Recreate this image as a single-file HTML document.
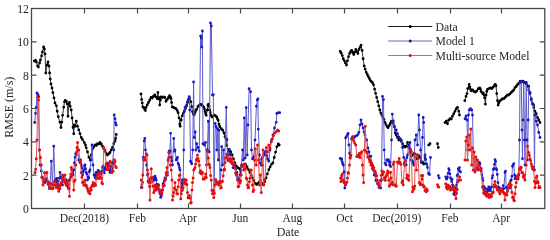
<!DOCTYPE html>
<html><head><meta charset="utf-8"><style>html,body{margin:0;padding:0;background:#fff;width:550px;height:240px;overflow:hidden}svg{display:block}</style></head>
<body>
<svg width="550" height="240" viewBox="0 0 550 240">
<rect width="550" height="240" fill="#fff"/>
<polyline points="34.4,61 35.6,60.4 36.4,62 37.6,66 38.4,67 39.6,63 40.4,60 41.6,56 42.4,52 43.6,47 44.4,49 45,54 45.8,73 47,65 48,62 49,66 49.6,73 50.2,79 51,84 52,88 52.9,92.7 54,97.9 55,103 56.4,105.8 57.2,111.25 58.25,116.7 59.9,122.1 61,127.5 61.8,122.1 62.6,115.3 63.7,107.2 64.5,101.8 65.3,100.4 66.25,101.25 67.2,103.75 68,116.25 68.8,104 69.5,102.5 70.2,106.25 71.25,110 72.1,118 73,127.5 73.75,133.75 74.25,125 75,126.25 76.25,121.25 77.5,126.25 78.75,130 80,133.75 81.25,137.5 82.6,139.7 84.3,142.4 85.5,145 86.2,147.8 87.5,151.9 88.9,157.3 90.2,160 91.2,155 92.5,148.75 93.75,147 95,145 96.25,145.5 97.5,143.75 98.75,144 100,142.5 101.25,144 102.5,146.25 103.75,148.75 105,151.25 106.25,153.75 107.5,155 108.75,153.75 110,152.5 111.25,150 112.5,147.5 113.75,143.75 115,141.25 115.6,138.5 116.25,134.4" fill="none" stroke="#000" stroke-width="0.8" stroke-linejoin="round"/>
<polyline points="141,94 141.6,99.4 142.25,103.1 142.9,106.9 143.5,107.5 144.75,109.4 145.4,110.6 146,107.5 147.25,105 148.5,102.5 149.75,100 151,97.5 152.25,98.1 153.5,96.25 154.75,95 156,96.9 157.25,98.75 157.9,92.5 158.5,97.5 159.1,98.75 159.75,105 160.4,100 161,96.9 162.25,97.5 163.5,96.9 164.75,97.5 166,101.25 167.25,99.4 168.5,97.5 169.5,95.6 170.4,96.9 171,98.75 171.6,102.5 172.25,106.9 173.5,107.5 174.75,108.1 176,108.75 177.25,110.6 178.1,112.7 179.1,117.9 179.75,124.2 180.2,126.25 181.2,120 182.25,115.8 183.3,113.3 184.3,111 185.4,108.5 186.7,105.8 187.6,102.5 188.5,100 189.5,98.5 190.8,101.7 191.7,106.7 192.5,111.7 193.3,114.2 194.2,115 195,112.5 195.8,110.5 196.7,109.2 198,106.5 199.2,105.3 200.3,104.2 201.5,104.75 202.7,105.9 203.8,107.1 204.4,108.8 205,111.2 205.6,113.5 206.2,115.25 207.3,110 207.9,105.3 208.5,104.2 209.1,106.5 209.7,110 210.25,112.3 210.8,115.25 212,117 213.2,115.8 214.3,115.25 215.5,115.8 216.75,117 217.5,119 218.25,120.5 219,124.25 219.75,126.5 221.25,128.75 222.75,130.25 224,133 225,136.7 226,138.75 226.8,145.3 228.1,149.4 229.5,151 230.8,152 232.2,154.8 233.5,158.9 234.9,163 236.3,166 237.6,167.5 239,168.4 240.3,169.7 241.7,167 243,165.6 244.4,164.3 245.7,165 247.1,167 248.5,169.7 249.8,172.4 251.2,175.1 252.5,177.8 253.9,180.5 255.2,183.3 256.6,184.6 257.9,183.3 259.3,181.9 260.6,180.5 262,183.3 263.4,184.6 264.7,181.9 266.1,177.8 267.4,173.8 268.8,169.7 270.1,167 271.5,164.3 272.8,163 274.2,157.5 275.6,152.1 276.9,146.7 278.3,144 279.2,145" fill="none" stroke="#000" stroke-width="0.8" stroke-linejoin="round"/>
<polyline points="340.2,51.5 341.2,53 342.3,55.6 343.3,58.75 344.4,60.8 345.4,62.9 346.5,65 347.5,60.8 348.5,56.7 349.6,53.5 350.6,51.5 351.7,50.4 352.7,52.5 353.75,54.6 354.8,52 355.8,49.4 356.9,51.5 357.9,53.5 359,49.4 360,47.3 361,45.2 362.1,50.4 363.1,58.75 364.2,66 365.2,69.2 366.25,72.3 367.3,74.5 368.3,76.5 369.4,78.5 370.4,80.6 371.5,81.7 372.5,82.7 373.5,84.8 374.6,89.2 375.6,93.3 376.7,97.5 377.7,101.7 378.75,105.8 379.8,110 380.8,113.1 381.9,115.2 382.9,117.3 384,119.4 385,122.5 386,124.6 387.1,126.7 388.1,127.7 389.2,125.6 390.2,123.5 391.25,121.5 392.3,122.5 393.3,123.5 394.4,126.7 395.4,133 396.25,135 397.5,137.5 398.75,140 400,139 401.25,141.25 402.5,143.75 403.75,146.25 405,147 406.25,146.25 407.5,142.5 408.75,147.5 410,152.5 411.25,156.25 412.5,155 413.75,153.75 415,157.5 416.25,158.75 417.5,155 418.75,156 420,157.5 421.25,161.25 422.5,162.5 423.75,164 425,155" fill="none" stroke="#000" stroke-width="0.8" stroke-linejoin="round"/>
<polyline points="428.75,145 430,143.75" fill="none" stroke="#000" stroke-width="0.8" stroke-linejoin="round"/>
<polyline points="437.5,143.75 438.3,147.5" fill="none" stroke="#000" stroke-width="0.8" stroke-linejoin="round"/>
<polyline points="445,122.5 446.25,121.25 447.5,123.75 448.75,120 450,118.75 451.25,119 452.5,116.25 453.75,113.75 455,111.25 456.25,108.75 457.5,107.5 458.75,111.25 459.5,115" fill="none" stroke="#000" stroke-width="0.8" stroke-linejoin="round"/>
<polyline points="464.8,100.7 466,96.4 467,93.6 467.7,88.6 469.1,84.4 469.8,87 470.5,89.3 471.2,90.8 472.6,90 474,91.5 475.5,92.2 476.9,90.8 478.3,88.6 479.7,87.9 480.4,89 481.1,91.5 482.6,93.6 483.3,93 484,95 484.7,97.9 485.4,104.2 486.1,95 486.8,91.5 487.5,89.3 489,88.6 490.4,87.9 491.8,88.6 493.2,87.2 494.6,85.1 495.3,84.4 496,85.8 496.75,93.6 497.5,100.7 498.2,105 498.9,102.8 500.3,100.7 501.7,99.3 502.5,98.75 503.75,98.75 505,97.5 506.25,96.25 507.5,95 508.75,95 510,93.75 511.25,92.5 512.5,91.25 513.75,90 515,87.5 516.25,86.5 517.5,84.5 518.75,83.5 520,81.5 521.25,81.5 522.5,81.25 523.75,82 525,82.5 526.25,84 527.5,86 528.75,90 530,93.75 531.25,98.75 532.5,103.75 533.75,107.5 535,111.25 536.25,113.75 537.5,117.5 538.75,120 540,122.5" fill="none" stroke="#000" stroke-width="0.8" stroke-linejoin="round"/>
<path d="M34.4 61h0M35.6 60.4h0M36.4 62h0M37.6 66h0M38.4 67h0M39.6 63h0M40.4 60h0M41.6 56h0M42.4 52h0M43.6 47h0M44.4 49h0M45 54h0M45.8 73h0M47 65h0M48 62h0M49 66h0M49.6 73h0M50.2 79h0M51 84h0M52 88h0M52.9 92.7h0M54 97.9h0M55 103h0M56.4 105.8h0M57.2 111.25h0M58.25 116.7h0M59.9 122.1h0M61 127.5h0M61.8 122.1h0M62.6 115.3h0M63.7 107.2h0M64.5 101.8h0M65.3 100.4h0M66.25 101.25h0M67.2 103.75h0M68 116.25h0M68.8 104h0M69.5 102.5h0M70.2 106.25h0M71.25 110h0M72.1 118h0M73 127.5h0M73.75 133.75h0M74.25 125h0M75 126.25h0M76.25 121.25h0M77.5 126.25h0M78.75 130h0M80 133.75h0M81.25 137.5h0M82.6 139.7h0M84.3 142.4h0M85.5 145h0M86.2 147.8h0M87.5 151.9h0M88.9 157.3h0M90.2 160h0M91.2 155h0M92.5 148.75h0M93.75 147h0M95 145h0M96.25 145.5h0M97.5 143.75h0M98.75 144h0M100 142.5h0M101.25 144h0M102.5 146.25h0M103.75 148.75h0M105 151.25h0M106.25 153.75h0M107.5 155h0M108.75 153.75h0M110 152.5h0M111.25 150h0M112.5 147.5h0M113.75 143.75h0M115 141.25h0M115.6 138.5h0M116.25 134.4h0M141 94h0M141.6 99.4h0M142.25 103.1h0M142.9 106.9h0M143.5 107.5h0M144.75 109.4h0M145.4 110.6h0M146 107.5h0M147.25 105h0M148.5 102.5h0M149.75 100h0M151 97.5h0M152.25 98.1h0M153.5 96.25h0M154.75 95h0M156 96.9h0M157.25 98.75h0M157.9 92.5h0M158.5 97.5h0M159.1 98.75h0M159.75 105h0M160.4 100h0M161 96.9h0M162.25 97.5h0M163.5 96.9h0M164.75 97.5h0M166 101.25h0M167.25 99.4h0M168.5 97.5h0M169.5 95.6h0M170.4 96.9h0M171 98.75h0M171.6 102.5h0M172.25 106.9h0M173.5 107.5h0M174.75 108.1h0M176 108.75h0M177.25 110.6h0M178.1 112.7h0M179.1 117.9h0M179.75 124.2h0M180.2 126.25h0M181.2 120h0M182.25 115.8h0M183.3 113.3h0M184.3 111h0M185.4 108.5h0M186.7 105.8h0M187.6 102.5h0M188.5 100h0M189.5 98.5h0M190.8 101.7h0M191.7 106.7h0M192.5 111.7h0M193.3 114.2h0M194.2 115h0M195 112.5h0M195.8 110.5h0M196.7 109.2h0M198 106.5h0M199.2 105.3h0M200.3 104.2h0M201.5 104.75h0M202.7 105.9h0M203.8 107.1h0M204.4 108.8h0M205 111.2h0M205.6 113.5h0M206.2 115.25h0M207.3 110h0M207.9 105.3h0M208.5 104.2h0M209.1 106.5h0M209.7 110h0M210.25 112.3h0M210.8 115.25h0M212 117h0M213.2 115.8h0M214.3 115.25h0M215.5 115.8h0M216.75 117h0M217.5 119h0M218.25 120.5h0M219 124.25h0M219.75 126.5h0M221.25 128.75h0M222.75 130.25h0M224 133h0M225 136.7h0M226 138.75h0M226.8 145.3h0M228.1 149.4h0M229.5 151h0M230.8 152h0M232.2 154.8h0M233.5 158.9h0M234.9 163h0M236.3 166h0M237.6 167.5h0M239 168.4h0M240.3 169.7h0M241.7 167h0M243 165.6h0M244.4 164.3h0M245.7 165h0M247.1 167h0M248.5 169.7h0M249.8 172.4h0M251.2 175.1h0M252.5 177.8h0M253.9 180.5h0M255.2 183.3h0M256.6 184.6h0M257.9 183.3h0M259.3 181.9h0M260.6 180.5h0M262 183.3h0M263.4 184.6h0M264.7 181.9h0M266.1 177.8h0M267.4 173.8h0M268.8 169.7h0M270.1 167h0M271.5 164.3h0M272.8 163h0M274.2 157.5h0M275.6 152.1h0M276.9 146.7h0M278.3 144h0M279.2 145h0M340.2 51.5h0M341.2 53h0M342.3 55.6h0M343.3 58.75h0M344.4 60.8h0M345.4 62.9h0M346.5 65h0M347.5 60.8h0M348.5 56.7h0M349.6 53.5h0M350.6 51.5h0M351.7 50.4h0M352.7 52.5h0M353.75 54.6h0M354.8 52h0M355.8 49.4h0M356.9 51.5h0M357.9 53.5h0M359 49.4h0M360 47.3h0M361 45.2h0M362.1 50.4h0M363.1 58.75h0M364.2 66h0M365.2 69.2h0M366.25 72.3h0M367.3 74.5h0M368.3 76.5h0M369.4 78.5h0M370.4 80.6h0M371.5 81.7h0M372.5 82.7h0M373.5 84.8h0M374.6 89.2h0M375.6 93.3h0M376.7 97.5h0M377.7 101.7h0M378.75 105.8h0M379.8 110h0M380.8 113.1h0M381.9 115.2h0M382.9 117.3h0M384 119.4h0M385 122.5h0M386 124.6h0M387.1 126.7h0M388.1 127.7h0M389.2 125.6h0M390.2 123.5h0M391.25 121.5h0M392.3 122.5h0M393.3 123.5h0M394.4 126.7h0M395.4 133h0M396.25 135h0M397.5 137.5h0M398.75 140h0M400 139h0M401.25 141.25h0M402.5 143.75h0M403.75 146.25h0M405 147h0M406.25 146.25h0M407.5 142.5h0M408.75 147.5h0M410 152.5h0M411.25 156.25h0M412.5 155h0M413.75 153.75h0M415 157.5h0M416.25 158.75h0M417.5 155h0M418.75 156h0M420 157.5h0M421.25 161.25h0M422.5 162.5h0M423.75 164h0M425 155h0M428.75 145h0M430 143.75h0M437.5 143.75h0M438.3 147.5h0M445 122.5h0M446.25 121.25h0M447.5 123.75h0M448.75 120h0M450 118.75h0M451.25 119h0M452.5 116.25h0M453.75 113.75h0M455 111.25h0M456.25 108.75h0M457.5 107.5h0M458.75 111.25h0M459.5 115h0M464.8 100.7h0M466 96.4h0M467 93.6h0M467.7 88.6h0M469.1 84.4h0M469.8 87h0M470.5 89.3h0M471.2 90.8h0M472.6 90h0M474 91.5h0M475.5 92.2h0M476.9 90.8h0M478.3 88.6h0M479.7 87.9h0M480.4 89h0M481.1 91.5h0M482.6 93.6h0M483.3 93h0M484 95h0M484.7 97.9h0M485.4 104.2h0M486.1 95h0M486.8 91.5h0M487.5 89.3h0M489 88.6h0M490.4 87.9h0M491.8 88.6h0M493.2 87.2h0M494.6 85.1h0M495.3 84.4h0M496 85.8h0M496.75 93.6h0M497.5 100.7h0M498.2 105h0M498.9 102.8h0M500.3 100.7h0M501.7 99.3h0M502.5 98.75h0M503.75 98.75h0M505 97.5h0M506.25 96.25h0M507.5 95h0M508.75 95h0M510 93.75h0M511.25 92.5h0M512.5 91.25h0M513.75 90h0M515 87.5h0M516.25 86.5h0M517.5 84.5h0M518.75 83.5h0M520 81.5h0M521.25 81.5h0M522.5 81.25h0M523.75 82h0M525 82.5h0M526.25 84h0M527.5 86h0M528.75 90h0M530 93.75h0M531.25 98.75h0M532.5 103.75h0M533.75 107.5h0M535 111.25h0M536.25 113.75h0M537.5 117.5h0M538.75 120h0M540 122.5h0" stroke="#000" stroke-width="2.8" stroke-linecap="round" fill="none"/>
<polyline points="34.7,122.5 35.5,113.3 36.3,107.5 37,93 38,94.7 38.7,96.7 39.3,150 40,165 40.62,165.07 41.25,171 41.88,177.03 42.5,177.5 43.12,180.86 43.75,180 44.38,179.29 45,182.5 45.62,180.59 46.25,178.75 46.88,179.6 47.5,181.25 48.12,184.34 48.75,185 49.38,188.56 50,187.5 51.25,161.25 52.5,185 53.75,146.25 55,182.5 55.62,179.5 56.25,183 56.88,178.35 57.5,181.25 58.12,185.81 58.75,185 59.38,178.21 60,172.5 60.62,177.35 61.25,178 61.88,177.52 62.5,185 63.12,180.19 63.75,176.25 64.38,179.9 65,180 65.62,179.33 66.25,183 66.88,185.56 67.5,181 68.12,187.46 68.75,187.5 69.38,179.99 70,180 70.62,174.33 71.25,176.25 71.88,174.71 72.5,172.5 73.12,174.76 73.75,170 74.38,162.8 75,157.5 75.62,153.98 76.25,155 77.5,150 78.75,160 79.38,160.63 80,162.5 80.62,159.98 81.25,165 81.88,167.77 82.5,175 83.12,172 83.75,170 84.5,166 85,165 85.62,168.72 86.25,172.5 86.88,174.11 87.5,180 88.12,176.85 88.75,178 89.38,171.75 90,170 91,160 92,145 93,165 94,175 95,177.5 95.62,174.68 96.25,172.5 96.88,173.07 97.5,177 98.12,170.3 98.75,171.25 99.38,176.33 100,176 100.62,174.7 101.25,172.5 101.88,171.14 102.5,167.5 103.12,166.24 103.75,170 104.38,172.94 105,168 105.62,169.38 106.25,165 106.88,162.97 107.5,167 108.12,164.04 108.75,163.75 109.38,169.9 110,172.5 110.62,171.94 111.25,168 111.88,168.74 112.5,162.5 113.75,150 114.2,115 115,118.75 115.6,123 116.25,125" fill="none" stroke="#5a5ad0" stroke-width="1.0" stroke-linejoin="round"/>
<polyline points="141.25,187.5 141.88,184.38 142.5,182.5 143.2,157.5 144.2,141 144.8,138.5 145.5,150 146.5,165 147.5,175 148.12,181.39 148.75,182.5 149.38,182.61 150,180 150.62,177.93 151.25,179 151.88,179.58 152.5,178.75 153.12,181.18 153.75,177.5 154.38,179.64 155,176.25 155.62,178.17 156.25,180 156.88,184.46 157.5,187.5 158.12,184.53 158.75,189 159.38,189.32 160,193.75 160.62,197.38 161.25,196.25 161.88,192.44 162.5,190 163.12,183.88 163.75,183 164.38,180.89 165,178 165.62,178.12 166.25,175 166.88,175.15 167.5,172.5 168.75,152.5 169.38,150.87 170,151.25 170.6,133.3 171.25,157.5 171.88,160.76 172.5,165 173.75,138.5 174.5,151.25 175,150 176.25,160 176.88,158.82 177.5,157.5 178.12,163.48 178.75,165 179.38,167.67 180,170 181.25,187.5 181.88,182.9 182.5,180 183,185 183.75,150 184.25,111.7 185,107.5 185.8,106.7 186.7,105 187.5,101.7 188.3,99.2 189.2,96.7 189.8,110 190.5,161.25 191.12,162.42 191.75,163.75 192.7,150 193.6,82 194.25,137.5 195.2,132 196,150 196.75,143.75 198,147.5 199.25,151.25 200.6,36 201.3,38 201.8,47 202.4,31 203,143.75 204.25,145 205.5,142.5 206.5,165 207.4,150 208.25,121.25 209.25,152 210.5,23 211.3,26 212.5,95 213.3,94.6 214,191 215.25,123.5 216,126.5 216.8,150 217.5,128.75 218.3,160 219,130.25 220,182.5 221,170 221.7,146.7 222.5,165 223.5,150 224.5,170 226.25,107.5 227,139.6 228,160 228.75,151.25 229.38,149.36 230,155 230.62,153.85 231.25,160 231.88,163.13 232.5,163 233.12,167.87 233.75,165 234.38,167 235,167.5 235.62,169.15 236.25,172.5 236.88,172.36 237.5,177.5 238.12,178.77 238.75,180 239.38,181.36 240,175 240.75,172.16 241.5,165 242.5,150 243.3,160 244.3,117.9 245.2,158 246.2,107.7 247.2,155 248,125 249.1,88.75 250.6,91.7 251.5,150 252.5,158.75 253.12,158.19 253.75,157 255,140 256.4,106.25 257.3,100 257.9,99 258.3,129.2 259.5,155 260.25,162.88 261,165 261.75,159.11 262.5,157.5 263.25,155.36 264,153 265,152 265.62,155.24 266.25,151.25 266.88,155.62 267.5,158.75 268.12,159.67 268.75,161.25 270,150 271.5,140 273,135 274.5,128 276.2,122.3 276.8,113.5 278.3,112.7 279.7,112.7" fill="none" stroke="#5a5ad0" stroke-width="1.0" stroke-linejoin="round"/>
<polyline points="340.2,158.5 341.2,159.6 341.73,158.95 342.25,162 342.77,163.88 343.3,165 344,172 344.8,188 345.6,138 346.4,136.7 347.5,134.6 348.1,133.5 348.9,145 349.5,153.3 350.05,158.01 350.6,155.4 351.6,138.75 352.7,137 353.7,138 354.75,136.7 355.8,136 356.8,135.6 357.9,134.6 358.9,132.5 360,125 361,120 362,124 363.1,128 364.1,132 365,135 366.7,140 368,148 369,152 370,156.7 370.85,156.05 371.7,163.3 372.5,168.92 373.3,170 374.15,175.06 375,175 375.85,180.59 376.7,180 377.5,183.42 378.3,183 378.95,187.47 379.6,187 380.15,187.65 380.7,188 381.5,180 382.5,96.5 383.5,99.6 384.2,150 385,163.3 386,165 386.7,160 387.5,160.29 388.3,159.6 388.9,161.71 389.5,165 390.05,162.2 390.6,166.5 391.5,140 392.3,114.2 393.3,121 394.4,126.7 395.4,129.8 396.25,130 397.5,133.75 398.75,137 400,138.75 401.25,140 402.5,147.5 403.75,157.5 404.38,162.96 405,162.5 405.62,164.31 406.25,165 406.88,157.6 407.5,155 408.75,145 410,142.5 411.25,160 411.88,160.66 412.5,161.25 413.12,163 413.75,165 415,140 416.25,135 417.5,145 418.75,115 419.5,130 420.5,150 421.25,162.5 422.5,137.5 423.25,117.5 423.75,122.5 425,157.5 425.62,159.48 426.25,163.75 426.88,164.39 427.5,167.5 428.4,173.3 428.95,174.21 429.5,174.5 430.5,157.5" fill="none" stroke="#5a5ad0" stroke-width="1.0" stroke-linejoin="round"/>
<polyline points="438.3,175.6 439.2,178" fill="none" stroke="#5a5ad0" stroke-width="1.0" stroke-linejoin="round"/>
<polyline points="445.7,176.8 446.3,178.89 446.9,179 447.45,177.05 448,173.3 448.75,168.75 449.2,170 449.85,173.67 450.5,178 451.5,181.4 452.05,179.32 452.6,184.8 453.18,187.24 453.75,194 454.32,191.92 454.9,195 455.45,192.33 456,188.3 456.6,184.84 457.2,175.6 457.75,174.56 458.3,168.75 458.9,170.55 459.5,167.6 460.5,172" fill="none" stroke="#5a5ad0" stroke-width="1.0" stroke-linejoin="round"/>
<polyline points="465,118.75 466,116 467,120 467.7,150 468.5,115 469.25,110 470.5,108.75 471.75,110 472.5,115 473.5,165 474.5,160 475.5,170 476.5,160 477.5,165 478.12,167.53 478.75,165 479.38,162.42 480,163.75 480.65,168.98 481.3,168.75 481.85,174.76 482.4,178 483,180.37 483.6,189.4 484.15,186.68 484.7,191.7 485.3,188.42 485.9,192.9 486.45,194.34 487,191.7 487.6,189.1 488.2,190.5 488.75,186.83 489.3,189.4 489.9,190.7 490.5,190 491.05,187.31 491.6,187.1 492.18,177.91 492.75,175.6 493.32,169.45 493.9,168.75 494.45,164.39 495,159.6 495.6,161.52 496.2,168.75 496.75,169.81 497.3,174.5 498.02,182.69 498.75,187.5 499.38,188.39 500,190 500.62,189.2 501.25,191.25 501.88,190.42 502.5,190 503.12,185.56 503.75,188.75 505,172.5 505.5,171.25 506.25,187.5 506.88,187.84 507.5,190 508.12,187.49 508.75,186.25 509.38,184.63 510,188 510.62,180.87 511.25,180 511.88,176.32 512.5,166.25 513.12,165.08 513.75,163.75 514.5,175 515,178.75 515.62,175.8 516.25,177.5 516.88,178.6 517.5,178 518.12,179.04 518.75,175 519.5,140 520,82.5 521.25,81.25 522,130 522.5,158.75 523,120 523.75,82.5 524.5,140 525,165 526.25,82.5 527,140 527.5,160 528.25,120 528.75,86.25 530,92.5 531.25,100 532.5,103.75 533.75,105 534.5,170 535,115 536.25,121.25 537.5,125 538.75,132.5 540,137.5" fill="none" stroke="#5a5ad0" stroke-width="1.0" stroke-linejoin="round"/>
<path d="M34.7 122.5h0M35.5 113.3h0M36.3 107.5h0M37 93h0M38 94.7h0M38.7 96.7h0M39.3 150h0M40 165h0M40.62 165.07h0M41.25 171h0M41.88 177.03h0M42.5 177.5h0M43.12 180.86h0M43.75 180h0M44.38 179.29h0M45 182.5h0M45.62 180.59h0M46.25 178.75h0M46.88 179.6h0M47.5 181.25h0M48.12 184.34h0M48.75 185h0M49.38 188.56h0M50 187.5h0M51.25 161.25h0M52.5 185h0M53.75 146.25h0M55 182.5h0M55.62 179.5h0M56.25 183h0M56.88 178.35h0M57.5 181.25h0M58.12 185.81h0M58.75 185h0M59.38 178.21h0M60 172.5h0M60.62 177.35h0M61.25 178h0M61.88 177.52h0M62.5 185h0M63.12 180.19h0M63.75 176.25h0M64.38 179.9h0M65 180h0M65.62 179.33h0M66.25 183h0M66.88 185.56h0M67.5 181h0M68.12 187.46h0M68.75 187.5h0M69.38 179.99h0M70 180h0M70.62 174.33h0M71.25 176.25h0M71.88 174.71h0M72.5 172.5h0M73.12 174.76h0M73.75 170h0M74.38 162.8h0M75 157.5h0M75.62 153.98h0M76.25 155h0M77.5 150h0M78.75 160h0M79.38 160.63h0M80 162.5h0M80.62 159.98h0M81.25 165h0M81.88 167.77h0M82.5 175h0M83.12 172h0M83.75 170h0M84.5 166h0M85 165h0M85.62 168.72h0M86.25 172.5h0M86.88 174.11h0M87.5 180h0M88.12 176.85h0M88.75 178h0M89.38 171.75h0M90 170h0M91 160h0M92 145h0M93 165h0M94 175h0M95 177.5h0M95.62 174.68h0M96.25 172.5h0M96.88 173.07h0M97.5 177h0M98.12 170.3h0M98.75 171.25h0M99.38 176.33h0M100 176h0M100.62 174.7h0M101.25 172.5h0M101.88 171.14h0M102.5 167.5h0M103.12 166.24h0M103.75 170h0M104.38 172.94h0M105 168h0M105.62 169.38h0M106.25 165h0M106.88 162.97h0M107.5 167h0M108.12 164.04h0M108.75 163.75h0M109.38 169.9h0M110 172.5h0M110.62 171.94h0M111.25 168h0M111.88 168.74h0M112.5 162.5h0M113.75 150h0M114.2 115h0M115 118.75h0M115.6 123h0M116.25 125h0M141.25 187.5h0M141.88 184.38h0M142.5 182.5h0M143.2 157.5h0M144.2 141h0M144.8 138.5h0M145.5 150h0M146.5 165h0M147.5 175h0M148.12 181.39h0M148.75 182.5h0M149.38 182.61h0M150 180h0M150.62 177.93h0M151.25 179h0M151.88 179.58h0M152.5 178.75h0M153.12 181.18h0M153.75 177.5h0M154.38 179.64h0M155 176.25h0M155.62 178.17h0M156.25 180h0M156.88 184.46h0M157.5 187.5h0M158.12 184.53h0M158.75 189h0M159.38 189.32h0M160 193.75h0M160.62 197.38h0M161.25 196.25h0M161.88 192.44h0M162.5 190h0M163.12 183.88h0M163.75 183h0M164.38 180.89h0M165 178h0M165.62 178.12h0M166.25 175h0M166.88 175.15h0M167.5 172.5h0M168.75 152.5h0M169.38 150.87h0M170 151.25h0M170.6 133.3h0M171.25 157.5h0M171.88 160.76h0M172.5 165h0M173.75 138.5h0M174.5 151.25h0M175 150h0M176.25 160h0M176.88 158.82h0M177.5 157.5h0M178.12 163.48h0M178.75 165h0M179.38 167.67h0M180 170h0M181.25 187.5h0M181.88 182.9h0M182.5 180h0M183 185h0M183.75 150h0M184.25 111.7h0M185 107.5h0M185.8 106.7h0M186.7 105h0M187.5 101.7h0M188.3 99.2h0M189.2 96.7h0M189.8 110h0M190.5 161.25h0M191.12 162.42h0M191.75 163.75h0M192.7 150h0M193.6 82h0M194.25 137.5h0M195.2 132h0M196 150h0M196.75 143.75h0M198 147.5h0M199.25 151.25h0M200.6 36h0M201.3 38h0M201.8 47h0M202.4 31h0M203 143.75h0M204.25 145h0M205.5 142.5h0M206.5 165h0M207.4 150h0M208.25 121.25h0M209.25 152h0M210.5 23h0M211.3 26h0M212.5 95h0M213.3 94.6h0M214 191h0M215.25 123.5h0M216 126.5h0M216.8 150h0M217.5 128.75h0M218.3 160h0M219 130.25h0M220 182.5h0M221 170h0M221.7 146.7h0M222.5 165h0M223.5 150h0M224.5 170h0M226.25 107.5h0M227 139.6h0M228 160h0M228.75 151.25h0M229.38 149.36h0M230 155h0M230.62 153.85h0M231.25 160h0M231.88 163.13h0M232.5 163h0M233.12 167.87h0M233.75 165h0M234.38 167h0M235 167.5h0M235.62 169.15h0M236.25 172.5h0M236.88 172.36h0M237.5 177.5h0M238.12 178.77h0M238.75 180h0M239.38 181.36h0M240 175h0M240.75 172.16h0M241.5 165h0M242.5 150h0M243.3 160h0M244.3 117.9h0M245.2 158h0M246.2 107.7h0M247.2 155h0M248 125h0M249.1 88.75h0M250.6 91.7h0M251.5 150h0M252.5 158.75h0M253.12 158.19h0M253.75 157h0M255 140h0M256.4 106.25h0M257.3 100h0M257.9 99h0M258.3 129.2h0M259.5 155h0M260.25 162.88h0M261 165h0M261.75 159.11h0M262.5 157.5h0M263.25 155.36h0M264 153h0M265 152h0M265.62 155.24h0M266.25 151.25h0M266.88 155.62h0M267.5 158.75h0M268.12 159.67h0M268.75 161.25h0M270 150h0M271.5 140h0M273 135h0M274.5 128h0M276.2 122.3h0M276.8 113.5h0M278.3 112.7h0M279.7 112.7h0M340.2 158.5h0M341.2 159.6h0M341.73 158.95h0M342.25 162h0M342.77 163.88h0M343.3 165h0M344 172h0M344.8 188h0M345.6 138h0M346.4 136.7h0M347.5 134.6h0M348.1 133.5h0M348.9 145h0M349.5 153.3h0M350.05 158.01h0M350.6 155.4h0M351.6 138.75h0M352.7 137h0M353.7 138h0M354.75 136.7h0M355.8 136h0M356.8 135.6h0M357.9 134.6h0M358.9 132.5h0M360 125h0M361 120h0M362 124h0M363.1 128h0M364.1 132h0M365 135h0M366.7 140h0M368 148h0M369 152h0M370 156.7h0M370.85 156.05h0M371.7 163.3h0M372.5 168.92h0M373.3 170h0M374.15 175.06h0M375 175h0M375.85 180.59h0M376.7 180h0M377.5 183.42h0M378.3 183h0M378.95 187.47h0M379.6 187h0M380.15 187.65h0M380.7 188h0M381.5 180h0M382.5 96.5h0M383.5 99.6h0M384.2 150h0M385 163.3h0M386 165h0M386.7 160h0M387.5 160.29h0M388.3 159.6h0M388.9 161.71h0M389.5 165h0M390.05 162.2h0M390.6 166.5h0M391.5 140h0M392.3 114.2h0M393.3 121h0M394.4 126.7h0M395.4 129.8h0M396.25 130h0M397.5 133.75h0M398.75 137h0M400 138.75h0M401.25 140h0M402.5 147.5h0M403.75 157.5h0M404.38 162.96h0M405 162.5h0M405.62 164.31h0M406.25 165h0M406.88 157.6h0M407.5 155h0M408.75 145h0M410 142.5h0M411.25 160h0M411.88 160.66h0M412.5 161.25h0M413.12 163h0M413.75 165h0M415 140h0M416.25 135h0M417.5 145h0M418.75 115h0M419.5 130h0M420.5 150h0M421.25 162.5h0M422.5 137.5h0M423.25 117.5h0M423.75 122.5h0M425 157.5h0M425.62 159.48h0M426.25 163.75h0M426.88 164.39h0M427.5 167.5h0M428.4 173.3h0M428.95 174.21h0M429.5 174.5h0M430.5 157.5h0M438.3 175.6h0M439.2 178h0M445.7 176.8h0M446.3 178.89h0M446.9 179h0M447.45 177.05h0M448 173.3h0M448.75 168.75h0M449.2 170h0M449.85 173.67h0M450.5 178h0M451.5 181.4h0M452.05 179.32h0M452.6 184.8h0M453.18 187.24h0M453.75 194h0M454.32 191.92h0M454.9 195h0M455.45 192.33h0M456 188.3h0M456.6 184.84h0M457.2 175.6h0M457.75 174.56h0M458.3 168.75h0M458.9 170.55h0M459.5 167.6h0M460.5 172h0M465 118.75h0M466 116h0M467 120h0M467.7 150h0M468.5 115h0M469.25 110h0M470.5 108.75h0M471.75 110h0M472.5 115h0M473.5 165h0M474.5 160h0M475.5 170h0M476.5 160h0M477.5 165h0M478.12 167.53h0M478.75 165h0M479.38 162.42h0M480 163.75h0M480.65 168.98h0M481.3 168.75h0M481.85 174.76h0M482.4 178h0M483 180.37h0M483.6 189.4h0M484.15 186.68h0M484.7 191.7h0M485.3 188.42h0M485.9 192.9h0M486.45 194.34h0M487 191.7h0M487.6 189.1h0M488.2 190.5h0M488.75 186.83h0M489.3 189.4h0M489.9 190.7h0M490.5 190h0M491.05 187.31h0M491.6 187.1h0M492.18 177.91h0M492.75 175.6h0M493.32 169.45h0M493.9 168.75h0M494.45 164.39h0M495 159.6h0M495.6 161.52h0M496.2 168.75h0M496.75 169.81h0M497.3 174.5h0M498.02 182.69h0M498.75 187.5h0M499.38 188.39h0M500 190h0M500.62 189.2h0M501.25 191.25h0M501.88 190.42h0M502.5 190h0M503.12 185.56h0M503.75 188.75h0M505 172.5h0M505.5 171.25h0M506.25 187.5h0M506.88 187.84h0M507.5 190h0M508.12 187.49h0M508.75 186.25h0M509.38 184.63h0M510 188h0M510.62 180.87h0M511.25 180h0M511.88 176.32h0M512.5 166.25h0M513.12 165.08h0M513.75 163.75h0M514.5 175h0M515 178.75h0M515.62 175.8h0M516.25 177.5h0M516.88 178.6h0M517.5 178h0M518.12 179.04h0M518.75 175h0M519.5 140h0M520 82.5h0M521.25 81.25h0M522 130h0M522.5 158.75h0M523 120h0M523.75 82.5h0M524.5 140h0M525 165h0M526.25 82.5h0M527 140h0M527.5 160h0M528.25 120h0M528.75 86.25h0M530 92.5h0M531.25 100h0M532.5 103.75h0M533.75 105h0M534.5 170h0M535 115h0M536.25 121.25h0M537.5 125h0M538.75 132.5h0M540 137.5h0" stroke="#1818c0" stroke-width="2.8" stroke-linecap="round" fill="none"/>
<polyline points="35,172.5 35.62,169.27 36.25,158.75 37,140 37.7,97 38.5,100 39.5,150 40.5,157.5 41.25,165 42,177.5 43,185 43.75,182.33 44.5,172.5 45.5,180 46.25,172.7 47,172.5 48,183.75 48.75,182.3 49.5,187.5 50.38,188.31 51.25,183.75 51.88,188.14 52.5,188.75 53.12,188.23 53.75,185 54.38,181.59 55,181.25 55.62,185.22 56.25,187.5 56.88,186.48 57.5,183.75 58.12,188.15 58.75,191.25 59.38,187.27 60,188.75 60.62,185.07 61.25,182.5 61.88,177.9 62.5,175 63.12,179.28 63.75,180 64.38,181.46 65,175 65.62,183.6 66.25,185 66.88,183.48 67.5,181.25 68.12,184.56 68.75,188.75 69.5,196.25 70.5,177.5 71.25,167.5 71.88,169.4 72.5,175 73.75,190 74.38,181.29 75,180 75.75,165 76.25,152.5 77,147.5 77.5,142.5 78.75,150 80,160 80.62,162.47 81.25,172.5 81.88,177.22 82.5,182.5 83.12,182.3 83.75,185 84.38,181.54 85,180 85.62,185.63 86.25,185 86.88,187.08 87.5,188.75 88.12,191.11 88.75,192.5 89.38,191.01 90,193.75 90.62,188.07 91.25,190 91.88,186.1 92.5,185 93.12,182.59 93.75,186 94.38,184.96 95,183.75 95.62,185.24 96.25,178.75 96.88,178.27 97.5,175 98.12,173.95 98.75,178 99.38,178.4 100,172.5 100.62,177.62 101.25,178 101.88,182.75 102.5,183.75 103.75,147.5 105,150 106.25,163.75 106.88,169.5 107.5,168.75 108.12,169.48 108.75,166 109.38,165.94 110,161.25 110.62,162.46 111.25,166 111.88,172.47 112.5,171.25 113.12,171.2 113.75,163.75 114.38,159.79 115,161.25 115.62,166.41 116.25,167.5" fill="none" stroke="#e85050" stroke-width="1.0" stroke-linejoin="round"/>
<polyline points="141.25,180 142,187.5 142.8,175 143.75,160 144.5,157.5 145.4,160 146.25,153.75 147,155 147.5,170 148,173.75 148.75,181.25 149.5,186.25 150,200 150.5,182.5 151.25,168.75 152,177.5 153,186.25 153.75,192.5 154.38,190.47 155,185 155.62,187.19 156.25,190 156.88,188.99 157.5,187.5 158.12,186.17 158.75,185 159.38,191.52 160,191.25 160.62,191.88 161.25,192.5 161.88,193.9 162.5,190 163.12,186.33 163.75,185 164.38,185.56 165,180 165.62,179.45 166.25,172.5 167,167.5 167.5,175 168,160 168.75,157.5 169.5,152.5 170.5,165 171.25,170 172,180 172.5,200 173.12,195.94 173.75,192.5 174.38,188.04 175,182.5 175.62,189.61 176.25,190 176.88,193.67 177.5,193.75 178.12,186.77 178.75,180 179.38,175.27 180,175 180.75,198.75 181.25,193.75 181.88,190.47 182.5,190 183.12,187.85 183.75,182.5 184.38,179.2 185,181.25 185.62,183.89 186.25,180 186.88,184.4 187.5,192.5 188.12,197.67 188.75,196.25 189.38,195.6 190,198 190.62,203 191.25,202.5 192,190 192.5,182.5 193.12,177.9 193.75,170 194.38,168.78 195,167.5 195.62,163.89 196.25,160 196.88,158.71 197.5,155 198.12,158.83 198.75,161.25 199.38,165.37 200,172.5 200.62,170.79 201.25,173.75 201.88,173.22 202.5,172.5 203.12,179.1 203.75,178.75 204.38,179.11 205,177.5 205.62,174.1 206.25,177.5 207.5,151.25 208.4,158 208.95,164.06 209.5,165 210,167.5 210.62,175.56 211.25,180 211.88,190.14 212.5,193.75 213.12,193.16 213.75,197.5 214.38,193.21 215,185 215.62,179.6 216.25,181.25 216.88,183.72 217.5,183.75 218.12,182.56 218.75,185 219.38,181.56 220,182.5 220.62,188 221.25,187.5 221.88,181.23 222.5,181.25 223.12,175.8 223.75,170 224.38,169.08 225,162.5 225.62,157.96 226.25,157.5 226.88,153.93 227.5,155 228.12,160.54 228.75,160 229.38,158.76 230,158.75 230.62,161.74 231.25,161.25 231.88,158.75 232.5,163.75 233.12,163.27 233.75,165 234.38,163.88 235,168 235.62,172.88 236.25,175 236.88,174.16 237.5,180 238.12,186.76 238.75,186.25 239.38,180.83 240,183 240.62,180.84 241.25,175 241.88,166.17 242.5,165 243.12,165.55 243.75,170 244.38,169.38 245,163.75 245.62,168.13 246.25,178 246.88,178.97 247.5,185 248.12,187.78 248.75,187.5 249.38,181.83 250,178 250.62,170.35 251.25,170 252.5,185 253.12,191.42 253.75,190 254.5,160 255.3,148.75 256.25,165 257.5,145 258.5,160 259.5,185 260.3,175 261.25,192.5 262.2,165 263,150 263.75,185 264.38,179.71 265,180 266.25,147.5 267.5,152 268.75,145 270,148 271.25,141.7 272.4,138.75 273.3,135.8 274.8,132.9 276.2,131.5 277.7,130 278.75,131" fill="none" stroke="#e85050" stroke-width="1.0" stroke-linejoin="round"/>
<polyline points="340.6,178 341,181.4 341.7,175.6 342.35,174.09 343,180 344,182.5 344.6,182.4 345.2,184.8 345.75,184.57 346.3,182.5 346.9,182.19 347.5,178 348.05,172.55 348.6,173.3 349.5,165 350.2,158 350.9,155.4 351.6,138.75 352.7,136.7 353.7,140.8 354.75,143 355.8,145 356.8,156.5 357.8,156.1 358.35,155 358.9,156.5 359.45,153.25 360,157.5 361,153.3 361.7,151.7 362.4,165 363,175 363.6,182.5 364.4,150 365.2,126.25 366.2,151.25 366.73,151.86 367.25,153.3 367.77,157.03 368.3,156.5 369.3,159.6 369.85,162.07 370.4,160.7 371,165.07 371.6,163 372.15,166.2 372.7,165.3 373.25,169.35 373.8,167.6 374.4,170.94 375,171 375.55,173.08 376.1,175.6 376.7,175.7 377.3,180.2 377.85,183.79 378.4,184.8 379,184.48 379.6,187.1 380.15,180.47 380.7,180.2 381.3,175.18 381.9,171 382.45,174.6 383,172.2 383.6,172.12 384.2,178 384.75,179.78 385.3,180.2 385.9,177.04 386.5,175.6 387.05,173.42 387.6,171 388.18,172.75 388.75,180.2 389.32,186.18 389.9,184.8 390.6,172.2 391,178 391.7,183.7 392.3,182.32 392.9,184.8 393.3,164.2 394,161.9 395.2,184.8 395.75,186.25 396.3,186 397.5,161.9 398.05,161.81 398.6,163 399.2,158.59 399.8,161.9 400.35,163.51 400.9,164.2 402,182.5 402.6,180.77 403.2,184.8 404.5,165 405.5,160 406.6,178 407.2,174.95 407.8,179 408.35,175.87 408.9,180.2 410,152.5 410.62,149.16 411.25,151.25 412.4,191.7 412.95,187.32 413.5,189.4 414.1,188.78 414.7,186 415,153.75 416.5,170 417.5,155 418.1,158.4 419.3,182.5 419.85,183.72 420.4,184.8 420.95,184.07 421.5,175.6 422.1,179.07 422.7,175.6 423.25,185.31 423.8,187.1 424.4,186.66 425,190.5 425.55,190.66 426.1,191.7 426.7,189.11 427.3,190.5" fill="none" stroke="#e85050" stroke-width="1.0" stroke-linejoin="round"/>
<polyline points="437.6,184.8 438.18,186.68 438.75,187.1" fill="none" stroke="#e85050" stroke-width="1.0" stroke-linejoin="round"/>
<polyline points="445.7,183.7 446.3,186.99 446.9,188.3 447.45,189.05 448,185 448.6,187.68 449.2,187 449.85,186.55 450.5,190 451.5,189.4 452.05,188.08 452.6,188 453.18,188.91 453.75,189.4 454.32,186.59 454.9,191.7 455.45,191.43 456,198.6 456.6,193.27 457.2,189.4 457.75,181.69 458.3,180.2 458.9,180.29 459.5,176.8 460.5,180" fill="none" stroke="#e85050" stroke-width="1.0" stroke-linejoin="round"/>
<polyline points="465,160 465.8,141 466.7,137 467.5,160 468.3,145 469.3,135 470,150 470.8,129 471.7,165 472.5,148 473.3,170 474.2,152 475,172 475.8,157 476.7,168 477.5,160 478.3,170 479.2,165 480,169 480.62,168.05 481.25,171.25 482.4,187.1 483,186.8 483.6,192.9 484.15,190.9 484.7,194 485.3,192.45 485.9,195.2 486.45,193.49 487,196.3 487.6,195.32 488.2,194 488.75,195.42 489.3,197.4 489.9,194.68 490.5,195 491.05,196.78 491.6,196.3 492.18,192.3 492.75,192.9 493.32,192.1 493.9,184.8 494.45,186.8 495,181.4 495.6,185.53 496.2,186 496.75,187.47 497.3,190 498.02,190.09 498.75,190 499.38,192.52 500,193.75 500.62,188.28 501.25,190 501.88,189.97 502.5,191.25 503.12,192.08 503.75,192.5 504.38,193.7 505,200 505.62,193.63 506.25,193.75 506.88,194.92 507.5,191.25 508.12,187.05 508.75,185 509.38,183.9 510,182.5 510.62,187.12 511.25,185 511.88,192.13 512.5,197.5 513.12,197.07 513.75,200 514.38,200.74 515,193.75 515.62,187.1 516.25,182.5 516.88,176.15 517.5,177.5 518.12,177.11 518.75,173.75 519.38,168.68 520,170 520.62,167.2 521.25,167.5 521.88,172.72 522.5,172.5 523.12,176.38 523.75,177.5 524.38,174.88 525,180 526.25,165 527.5,146.25 528.75,152.5 529.38,155.24 530,158.75 530.62,160.54 531.25,163.75 531.88,166.14 532.5,168.75 533.12,167.04 533.75,170 534.5,181.25 535,187.5 535.62,183.21 536.25,177.5 536.88,175.97 537.5,181.25 538.12,182.65 538.75,187.5 539.38,186.48 540,187.5" fill="none" stroke="#e85050" stroke-width="1.0" stroke-linejoin="round"/>
<path d="M35 172.5h0M35.62 169.27h0M36.25 158.75h0M37 140h0M37.7 97h0M38.5 100h0M39.5 150h0M40.5 157.5h0M41.25 165h0M42 177.5h0M43 185h0M43.75 182.33h0M44.5 172.5h0M45.5 180h0M46.25 172.7h0M47 172.5h0M48 183.75h0M48.75 182.3h0M49.5 187.5h0M50.38 188.31h0M51.25 183.75h0M51.88 188.14h0M52.5 188.75h0M53.12 188.23h0M53.75 185h0M54.38 181.59h0M55 181.25h0M55.62 185.22h0M56.25 187.5h0M56.88 186.48h0M57.5 183.75h0M58.12 188.15h0M58.75 191.25h0M59.38 187.27h0M60 188.75h0M60.62 185.07h0M61.25 182.5h0M61.88 177.9h0M62.5 175h0M63.12 179.28h0M63.75 180h0M64.38 181.46h0M65 175h0M65.62 183.6h0M66.25 185h0M66.88 183.48h0M67.5 181.25h0M68.12 184.56h0M68.75 188.75h0M69.5 196.25h0M70.5 177.5h0M71.25 167.5h0M71.88 169.4h0M72.5 175h0M73.75 190h0M74.38 181.29h0M75 180h0M75.75 165h0M76.25 152.5h0M77 147.5h0M77.5 142.5h0M78.75 150h0M80 160h0M80.62 162.47h0M81.25 172.5h0M81.88 177.22h0M82.5 182.5h0M83.12 182.3h0M83.75 185h0M84.38 181.54h0M85 180h0M85.62 185.63h0M86.25 185h0M86.88 187.08h0M87.5 188.75h0M88.12 191.11h0M88.75 192.5h0M89.38 191.01h0M90 193.75h0M90.62 188.07h0M91.25 190h0M91.88 186.1h0M92.5 185h0M93.12 182.59h0M93.75 186h0M94.38 184.96h0M95 183.75h0M95.62 185.24h0M96.25 178.75h0M96.88 178.27h0M97.5 175h0M98.12 173.95h0M98.75 178h0M99.38 178.4h0M100 172.5h0M100.62 177.62h0M101.25 178h0M101.88 182.75h0M102.5 183.75h0M103.75 147.5h0M105 150h0M106.25 163.75h0M106.88 169.5h0M107.5 168.75h0M108.12 169.48h0M108.75 166h0M109.38 165.94h0M110 161.25h0M110.62 162.46h0M111.25 166h0M111.88 172.47h0M112.5 171.25h0M113.12 171.2h0M113.75 163.75h0M114.38 159.79h0M115 161.25h0M115.62 166.41h0M116.25 167.5h0M141.25 180h0M142 187.5h0M142.8 175h0M143.75 160h0M144.5 157.5h0M145.4 160h0M146.25 153.75h0M147 155h0M147.5 170h0M148 173.75h0M148.75 181.25h0M149.5 186.25h0M150 200h0M150.5 182.5h0M151.25 168.75h0M152 177.5h0M153 186.25h0M153.75 192.5h0M154.38 190.47h0M155 185h0M155.62 187.19h0M156.25 190h0M156.88 188.99h0M157.5 187.5h0M158.12 186.17h0M158.75 185h0M159.38 191.52h0M160 191.25h0M160.62 191.88h0M161.25 192.5h0M161.88 193.9h0M162.5 190h0M163.12 186.33h0M163.75 185h0M164.38 185.56h0M165 180h0M165.62 179.45h0M166.25 172.5h0M167 167.5h0M167.5 175h0M168 160h0M168.75 157.5h0M169.5 152.5h0M170.5 165h0M171.25 170h0M172 180h0M172.5 200h0M173.12 195.94h0M173.75 192.5h0M174.38 188.04h0M175 182.5h0M175.62 189.61h0M176.25 190h0M176.88 193.67h0M177.5 193.75h0M178.12 186.77h0M178.75 180h0M179.38 175.27h0M180 175h0M180.75 198.75h0M181.25 193.75h0M181.88 190.47h0M182.5 190h0M183.12 187.85h0M183.75 182.5h0M184.38 179.2h0M185 181.25h0M185.62 183.89h0M186.25 180h0M186.88 184.4h0M187.5 192.5h0M188.12 197.67h0M188.75 196.25h0M189.38 195.6h0M190 198h0M190.62 203h0M191.25 202.5h0M192 190h0M192.5 182.5h0M193.12 177.9h0M193.75 170h0M194.38 168.78h0M195 167.5h0M195.62 163.89h0M196.25 160h0M196.88 158.71h0M197.5 155h0M198.12 158.83h0M198.75 161.25h0M199.38 165.37h0M200 172.5h0M200.62 170.79h0M201.25 173.75h0M201.88 173.22h0M202.5 172.5h0M203.12 179.1h0M203.75 178.75h0M204.38 179.11h0M205 177.5h0M205.62 174.1h0M206.25 177.5h0M207.5 151.25h0M208.4 158h0M208.95 164.06h0M209.5 165h0M210 167.5h0M210.62 175.56h0M211.25 180h0M211.88 190.14h0M212.5 193.75h0M213.12 193.16h0M213.75 197.5h0M214.38 193.21h0M215 185h0M215.62 179.6h0M216.25 181.25h0M216.88 183.72h0M217.5 183.75h0M218.12 182.56h0M218.75 185h0M219.38 181.56h0M220 182.5h0M220.62 188h0M221.25 187.5h0M221.88 181.23h0M222.5 181.25h0M223.12 175.8h0M223.75 170h0M224.38 169.08h0M225 162.5h0M225.62 157.96h0M226.25 157.5h0M226.88 153.93h0M227.5 155h0M228.12 160.54h0M228.75 160h0M229.38 158.76h0M230 158.75h0M230.62 161.74h0M231.25 161.25h0M231.88 158.75h0M232.5 163.75h0M233.12 163.27h0M233.75 165h0M234.38 163.88h0M235 168h0M235.62 172.88h0M236.25 175h0M236.88 174.16h0M237.5 180h0M238.12 186.76h0M238.75 186.25h0M239.38 180.83h0M240 183h0M240.62 180.84h0M241.25 175h0M241.88 166.17h0M242.5 165h0M243.12 165.55h0M243.75 170h0M244.38 169.38h0M245 163.75h0M245.62 168.13h0M246.25 178h0M246.88 178.97h0M247.5 185h0M248.12 187.78h0M248.75 187.5h0M249.38 181.83h0M250 178h0M250.62 170.35h0M251.25 170h0M252.5 185h0M253.12 191.42h0M253.75 190h0M254.5 160h0M255.3 148.75h0M256.25 165h0M257.5 145h0M258.5 160h0M259.5 185h0M260.3 175h0M261.25 192.5h0M262.2 165h0M263 150h0M263.75 185h0M264.38 179.71h0M265 180h0M266.25 147.5h0M267.5 152h0M268.75 145h0M270 148h0M271.25 141.7h0M272.4 138.75h0M273.3 135.8h0M274.8 132.9h0M276.2 131.5h0M277.7 130h0M278.75 131h0M340.6 178h0M341 181.4h0M341.7 175.6h0M342.35 174.09h0M343 180h0M344 182.5h0M344.6 182.4h0M345.2 184.8h0M345.75 184.57h0M346.3 182.5h0M346.9 182.19h0M347.5 178h0M348.05 172.55h0M348.6 173.3h0M349.5 165h0M350.2 158h0M350.9 155.4h0M351.6 138.75h0M352.7 136.7h0M353.7 140.8h0M354.75 143h0M355.8 145h0M356.8 156.5h0M357.8 156.1h0M358.35 155h0M358.9 156.5h0M359.45 153.25h0M360 157.5h0M361 153.3h0M361.7 151.7h0M362.4 165h0M363 175h0M363.6 182.5h0M364.4 150h0M365.2 126.25h0M366.2 151.25h0M366.73 151.86h0M367.25 153.3h0M367.77 157.03h0M368.3 156.5h0M369.3 159.6h0M369.85 162.07h0M370.4 160.7h0M371 165.07h0M371.6 163h0M372.15 166.2h0M372.7 165.3h0M373.25 169.35h0M373.8 167.6h0M374.4 170.94h0M375 171h0M375.55 173.08h0M376.1 175.6h0M376.7 175.7h0M377.3 180.2h0M377.85 183.79h0M378.4 184.8h0M379 184.48h0M379.6 187.1h0M380.15 180.47h0M380.7 180.2h0M381.3 175.18h0M381.9 171h0M382.45 174.6h0M383 172.2h0M383.6 172.12h0M384.2 178h0M384.75 179.78h0M385.3 180.2h0M385.9 177.04h0M386.5 175.6h0M387.05 173.42h0M387.6 171h0M388.18 172.75h0M388.75 180.2h0M389.32 186.18h0M389.9 184.8h0M390.6 172.2h0M391 178h0M391.7 183.7h0M392.3 182.32h0M392.9 184.8h0M393.3 164.2h0M394 161.9h0M395.2 184.8h0M395.75 186.25h0M396.3 186h0M397.5 161.9h0M398.05 161.81h0M398.6 163h0M399.2 158.59h0M399.8 161.9h0M400.35 163.51h0M400.9 164.2h0M402 182.5h0M402.6 180.77h0M403.2 184.8h0M404.5 165h0M405.5 160h0M406.6 178h0M407.2 174.95h0M407.8 179h0M408.35 175.87h0M408.9 180.2h0M410 152.5h0M410.62 149.16h0M411.25 151.25h0M412.4 191.7h0M412.95 187.32h0M413.5 189.4h0M414.1 188.78h0M414.7 186h0M415 153.75h0M416.5 170h0M417.5 155h0M418.1 158.4h0M419.3 182.5h0M419.85 183.72h0M420.4 184.8h0M420.95 184.07h0M421.5 175.6h0M422.1 179.07h0M422.7 175.6h0M423.25 185.31h0M423.8 187.1h0M424.4 186.66h0M425 190.5h0M425.55 190.66h0M426.1 191.7h0M426.7 189.11h0M427.3 190.5h0M437.6 184.8h0M438.18 186.68h0M438.75 187.1h0M445.7 183.7h0M446.3 186.99h0M446.9 188.3h0M447.45 189.05h0M448 185h0M448.6 187.68h0M449.2 187h0M449.85 186.55h0M450.5 190h0M451.5 189.4h0M452.05 188.08h0M452.6 188h0M453.18 188.91h0M453.75 189.4h0M454.32 186.59h0M454.9 191.7h0M455.45 191.43h0M456 198.6h0M456.6 193.27h0M457.2 189.4h0M457.75 181.69h0M458.3 180.2h0M458.9 180.29h0M459.5 176.8h0M460.5 180h0M465 160h0M465.8 141h0M466.7 137h0M467.5 160h0M468.3 145h0M469.3 135h0M470 150h0M470.8 129h0M471.7 165h0M472.5 148h0M473.3 170h0M474.2 152h0M475 172h0M475.8 157h0M476.7 168h0M477.5 160h0M478.3 170h0M479.2 165h0M480 169h0M480.62 168.05h0M481.25 171.25h0M482.4 187.1h0M483 186.8h0M483.6 192.9h0M484.15 190.9h0M484.7 194h0M485.3 192.45h0M485.9 195.2h0M486.45 193.49h0M487 196.3h0M487.6 195.32h0M488.2 194h0M488.75 195.42h0M489.3 197.4h0M489.9 194.68h0M490.5 195h0M491.05 196.78h0M491.6 196.3h0M492.18 192.3h0M492.75 192.9h0M493.32 192.1h0M493.9 184.8h0M494.45 186.8h0M495 181.4h0M495.6 185.53h0M496.2 186h0M496.75 187.47h0M497.3 190h0M498.02 190.09h0M498.75 190h0M499.38 192.52h0M500 193.75h0M500.62 188.28h0M501.25 190h0M501.88 189.97h0M502.5 191.25h0M503.12 192.08h0M503.75 192.5h0M504.38 193.7h0M505 200h0M505.62 193.63h0M506.25 193.75h0M506.88 194.92h0M507.5 191.25h0M508.12 187.05h0M508.75 185h0M509.38 183.9h0M510 182.5h0M510.62 187.12h0M511.25 185h0M511.88 192.13h0M512.5 197.5h0M513.12 197.07h0M513.75 200h0M514.38 200.74h0M515 193.75h0M515.62 187.1h0M516.25 182.5h0M516.88 176.15h0M517.5 177.5h0M518.12 177.11h0M518.75 173.75h0M519.38 168.68h0M520 170h0M520.62 167.2h0M521.25 167.5h0M521.88 172.72h0M522.5 172.5h0M523.12 176.38h0M523.75 177.5h0M524.38 174.88h0M525 180h0M526.25 165h0M527.5 146.25h0M528.75 152.5h0M529.38 155.24h0M530 158.75h0M530.62 160.54h0M531.25 163.75h0M531.88 166.14h0M532.5 168.75h0M533.12 167.04h0M533.75 170h0M534.5 181.25h0M535 187.5h0M535.62 183.21h0M536.25 177.5h0M536.88 175.97h0M537.5 181.25h0M538.12 182.65h0M538.75 187.5h0M539.38 186.48h0M540 187.5h0" stroke="#e01010" stroke-width="3.0" stroke-linecap="round" fill="none"/>
<rect x="31.5" y="8.5" width="513.3" height="200.0" fill="none" stroke="#484848" stroke-width="1.3"/>
<path d="M84.5 208.5v-5M84.5 8.5v5M137.5 208.5v-5M137.5 8.5v5M188.5 208.5v-5M188.5 8.5v5M240.5 208.5v-5M240.5 8.5v5M292.5 208.5v-5M292.5 8.5v5M344.5 208.5v-5M344.5 8.5v5M397.5 208.5v-5M397.5 8.5v5M450.5 208.5v-5M450.5 8.5v5M501.5 208.5v-5M501.5 8.5v5M31.5 208.5h5M544.8 208.5h-5M31.5 175.17h5M544.8 175.17h-5M31.5 141.83h5M544.8 141.83h-5M31.5 108.5h5M544.8 108.5h-5M31.5 75.17h5M544.8 75.17h-5M31.5 41.83h5M544.8 41.83h-5M31.5 8.5h5M544.8 8.5h-5" stroke="#484848" stroke-width="1.2" fill="none"/>
<text x="84.4" y="221.5" font-family="Liberation Serif, Times New Roman, serif" font-size="11.5" text-anchor="middle" fill="#262626">Dec(2018)</text>
<text x="137.47" y="221.5" font-family="Liberation Serif, Times New Roman, serif" font-size="11.5" text-anchor="middle" fill="#262626">Feb</text>
<text x="187.96" y="221.5" font-family="Liberation Serif, Times New Roman, serif" font-size="11.5" text-anchor="middle" fill="#262626">Apr</text>
<text x="240.17" y="221.5" font-family="Liberation Serif, Times New Roman, serif" font-size="11.5" text-anchor="middle" fill="#262626">Jun</text>
<text x="292.38" y="221.5" font-family="Liberation Serif, Times New Roman, serif" font-size="11.5" text-anchor="middle" fill="#262626">Aug</text>
<text x="344.59" y="221.5" font-family="Liberation Serif, Times New Roman, serif" font-size="11.5" text-anchor="middle" fill="#262626">Oct</text>
<text x="396.8" y="221.5" font-family="Liberation Serif, Times New Roman, serif" font-size="11.5" text-anchor="middle" fill="#262626">Dec(2019)</text>
<text x="449.87" y="221.5" font-family="Liberation Serif, Times New Roman, serif" font-size="11.5" text-anchor="middle" fill="#262626">Feb</text>
<text x="501.22" y="221.5" font-family="Liberation Serif, Times New Roman, serif" font-size="11.5" text-anchor="middle" fill="#262626">Apr</text>
<text x="28.9" y="212.9" font-family="Liberation Serif, Times New Roman, serif" font-size="11.7" text-anchor="end" fill="#262626">0</text>
<text x="28.9" y="179.57" font-family="Liberation Serif, Times New Roman, serif" font-size="11.7" text-anchor="end" fill="#262626">2</text>
<text x="28.9" y="146.23" font-family="Liberation Serif, Times New Roman, serif" font-size="11.7" text-anchor="end" fill="#262626">4</text>
<text x="28.9" y="112.9" font-family="Liberation Serif, Times New Roman, serif" font-size="11.7" text-anchor="end" fill="#262626">6</text>
<text x="28.9" y="79.57" font-family="Liberation Serif, Times New Roman, serif" font-size="11.7" text-anchor="end" fill="#262626">8</text>
<text x="28.9" y="46.23" font-family="Liberation Serif, Times New Roman, serif" font-size="11.7" text-anchor="end" fill="#262626">10</text>
<text x="28.9" y="12.9" font-family="Liberation Serif, Times New Roman, serif" font-size="11.7" text-anchor="end" fill="#262626">12</text>
<text x="288" y="235.5" font-family="Liberation Serif, Times New Roman, serif" font-size="12" text-anchor="middle" fill="#262626">Date</text>
<text transform="translate(12.5,107.2) rotate(-90)" font-family="Liberation Serif, Times New Roman, serif" font-size="12" text-anchor="middle" fill="#262626">RMSE (m/s)</text>
<path d="M388.2 26.5H432.2" stroke="#1a1a1a" stroke-width="1"/>
<circle cx="410.2" cy="26.5" r="1.5" fill="#000"/>
<text x="435.6" y="30.9" font-family="Liberation Serif, Times New Roman, serif" font-size="11.7" fill="#262626">Data</text>
<path d="M388.2 41H432.2" stroke="#6464b4" stroke-width="1"/>
<circle cx="410.2" cy="41" r="1.5" fill="#1818a0"/>
<text x="435.6" y="45.4" font-family="Liberation Serif, Times New Roman, serif" font-size="11.7" fill="#262626">Model 1</text>
<path d="M388.2 55.5H432.2" stroke="#d06868" stroke-width="1"/>
<circle cx="410.2" cy="55.5" r="1.5" fill="#c01818"/>
<text x="435.6" y="59.9" font-family="Liberation Serif, Times New Roman, serif" font-size="11.7" fill="#262626">Multi-source Model</text>
</svg>
</body></html>
